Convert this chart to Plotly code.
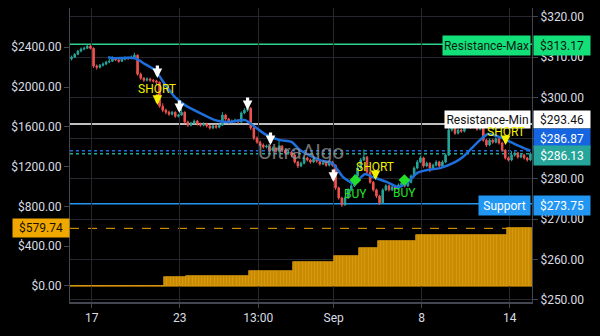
import plotly.graph_objects as go

# ---------------- data ----------------
close = [310.0, 310.7, 311.5, 312.0, 312.2, 312.7, 312.2, 307.8, 307.5, 308.0,
         308.3, 308.8, 309.0, 309.8, 309.3, 309.0, 309.5, 309.8, 309.7, 310.0,
         310.5, 305.8, 304.8, 304.3, 304.6, 304.3, 304.1, 303.8, 297.9, 296.9,
         296.4, 295.9, 296.4, 295.4, 295.7, 296.4, 294.0, 293.2, 293.7, 294.2,
         293.5, 293.2, 293.5, 293.0, 292.5, 293.0, 292.7, 293.2, 295.7, 294.7,
         294.0, 294.2, 294.4, 294.0, 296.2, 296.9, 297.4, 292.5, 290.0, 289.0,
         288.3, 287.8, 288.0, 287.0, 287.5, 286.8, 288.0, 287.0, 286.3, 286.5,
         285.8, 284.1, 283.1, 283.8, 285.1, 284.6, 284.1, 284.8, 284.3, 283.6,
         283.8, 283.3, 284.1, 283.3, 277.7, 275.2, 273.5, 275.2, 277.2, 278.2,
         280.6, 282.6, 284.6, 285.3, 281.6, 279.1, 277.2, 275.7, 274.0, 277.2,
         278.2, 277.2, 277.9, 277.4, 278.4, 278.9, 278.2, 279.1, 280.6, 282.6,
         284.1, 285.1, 283.1, 283.8, 282.6, 283.3, 284.1, 283.1, 284.1, 285.8,
         292.0, 292.5, 291.2, 292.0, 291.7, 293.2, 294.0, 292.7, 293.0, 292.2,
         292.5, 289.5, 288.3, 289.5, 289.0, 289.8, 288.8, 287.0, 285.1, 284.6,
         285.8, 286.3, 285.3, 285.8, 285.1, 284.6, 286.13]

high = [310.4, 311.0, 311.8, 312.4, 312.6, 313.1, 313.0, 312.4, 308.2, 308.3,
        308.7, 309.1, 309.6, 310.2, 310.0, 309.6, 309.9, 310.2, 310.1, 310.4,
        311.1, 310.7, 306.2, 305.1, 305.0, 304.9, 304.6, 304.4, 304.0, 298.6,
        297.3, 296.8, 296.7, 296.6, 296.0, 297.8, 296.6, 294.3, 294.0, 294.6,
        294.5, 293.8, 293.9, 293.8, 293.3, 293.3, 293.4, 293.6, 296.4, 296.0,
        295.0, 294.6, 294.8, 294.7, 296.6, 297.4, 298.1, 297.6, 292.8, 290.4,
        289.4, 288.7, 288.4, 288.3, 287.9, 287.8, 289.6, 288.3, 287.3, 287.0,
        286.8, 286.1, 284.4, 284.2, 285.5, 285.4, 284.9, 285.2, 285.1, 284.6,
        284.2, 284.1, 284.5, 284.4, 283.5, 278.0, 275.5, 275.6, 277.6, 278.7,
        281.0, 283.1, 285.1, 287.2, 285.6, 281.9, 279.4, 277.5, 276.0, 277.6,
        278.6, 278.5, 278.3, 278.2, 278.8, 279.3, 279.2, 279.5, 281.0, 283.0,
        284.6, 285.6, 285.4, 284.2, 284.0, 283.7, 284.5, 284.4, 284.5, 286.2,
        292.7, 292.9, 292.8, 292.4, 292.3, 293.6, 294.6, 294.2, 293.4, 293.3,
        292.9, 292.7, 289.8, 289.9, 289.8, 290.2, 290.0, 289.1, 287.3, 285.5,
        286.8, 286.7, 286.6, 286.2, 286.1, 285.4, 286.5]

low = [309.2, 309.8, 310.5, 311.2, 311.7, 312.0, 311.9, 307.3, 306.9, 307.2,
       307.7, 308.0, 308.5, 308.8, 309.0, 308.6, 308.8, 309.2, 309.3, 309.5,
       309.8, 305.4, 304.4, 303.9, 304.0, 303.9, 303.7, 303.3, 297.5, 296.4,
       295.9, 295.5, 295.6, 295.0, 295.1, 295.5, 293.6, 292.8, 292.9, 293.4,
       293.1, 292.8, 292.9, 292.6, 292.1, 292.2, 292.3, 292.4, 293.0, 294.3,
       293.6, 293.7, 293.9, 293.6, 293.8, 295.9, 296.5, 292.0, 289.5, 288.6,
       287.9, 287.4, 287.5, 286.6, 286.7, 286.4, 286.6, 286.6, 285.9, 286.0,
       285.3, 283.7, 282.6, 282.8, 283.5, 284.2, 283.7, 283.8, 283.9, 283.2,
       283.3, 282.9, 283.0, 282.9, 277.2, 274.8, 273.0, 273.3, 275.0, 276.9,
       277.9, 280.3, 282.3, 284.3, 281.2, 278.7, 276.8, 275.2, 273.5, 273.8,
       276.9, 276.8, 276.9, 277.0, 277.1, 278.0, 277.8, 277.9, 278.8, 280.3,
       282.3, 283.8, 282.7, 282.8, 281.6, 282.3, 283.0, 282.7, 282.8, 283.8,
       285.6, 291.6, 290.8, 290.9, 291.3, 291.4, 292.9, 292.3, 292.4, 291.8,
       291.9, 289.1, 287.8, 288.0, 288.6, 288.7, 288.4, 286.6, 284.7, 284.2,
       284.3, 285.4, 284.9, 285.0, 284.7, 284.2, 284.3]

open_ = [309.6] + close[:-1]
idx = list(range(len(close)))

# moving-average line (read at points)
ma_x = [11.6, 13.8, 20.2, 23.4, 26.5, 29.7, 32.9, 36.1, 40.9, 45.6, 49.5, 55.2,
        58.4, 61.5, 66.3, 70.1, 72.7, 79.0, 82.9, 86.4, 89.5, 91.1, 93.4, 95.9,
        100.4, 103.9, 106.7, 109.9, 113.1, 117.2, 122.0, 124.5, 129.9, 132.5,
        136.3, 141.7, 146.0]
ma_y = [310.0, 309.75, 309.75, 308.27, 306.79, 303.33, 300.12, 298.15, 296.17,
        294.44, 293.95, 294.44, 292.72, 290.99, 289.51, 289.01, 287.04, 284.57,
        283.83, 280.37, 278.89, 279.63, 281.11, 280.37, 279.14, 277.90, 278.89,
        281.36, 282.10, 282.59, 284.07, 285.31, 289.51, 290.99, 290.25, 288.27,
        286.87]

# cumulative histogram (left axis)
bar_vals = ([0] * 30 + [93] * 7 + [104] * 20 + [151] * 14 + [241] * 13 +
            [301] * 8 + [382] * 6 + [452] * 12 + [513] * 29 + [579.74] * 8)

res_max = 313.17
res_min = 293.46
support = 273.75
ma_last = 286.87
last_close = 286.13
bar_last = 579.74

tick_vals = [6.4, 34.4, 59.4, 83.4, 111.4, 139.4]
tick_text = ["17", "23", "13:00", "Sep", "8", "14"]
right_ticks = [250, 260, 270, 280, 290, 300, 310, 320]
left_ticks = [0, 400, 800, 1200, 1600, 2000, 2400]

white_x = [27.3, 34.3, 56.0, 63.3, 83.3]
white_y = [304.85, 296.2, 296.95, 288.3, 279.16]
short_x = [27.3, 96.7, 138.1]
short_arrow_y = [298.2, 279.65, 288.3]
short_text_y = [302.1, 282.9, 291.5]
buy_x = [90.3, 105.9]
buy_y = [279.65, 279.65]
buy_text_y = [276.2, 276.4]

# ---------------- styling ----------------
FONT = "Roboto, DejaVu Sans, sans-serif"
TXT = "#d9dce3"
GRID = "#26262f"
AXLINE = "#434651"
UP = "#26a69a"
DOWN = "#ef5350"
BLUE = "#1e6fdc"
GREEN = "#2ed18a"
ORANGE = "#f0a800"

fig = go.Figure()

fig.add_trace(go.Bar(
    x=idx, y=bar_vals, yaxis="y2", width=1,
    marker=dict(color="#c68b00", line=dict(color="#e6a412", width=0.7)),
    hoverinfo="skip"))

fig.add_trace(go.Candlestick(
    x=idx, open=open_, high=high, low=low, close=close,
    increasing=dict(line=dict(color=UP, width=1), fillcolor=UP),
    decreasing=dict(line=dict(color=DOWN, width=1), fillcolor=DOWN),
    hoverinfo="skip"))

fig.add_trace(go.Scatter(
    x=ma_x, y=ma_y, mode="lines", line=dict(color=BLUE, width=2.5, shape="spline", smoothing=0.6),
    hoverinfo="skip"))

fig.add_trace(go.Scatter(
    x=buy_x, y=buy_y, mode="markers",
    marker=dict(symbol="diamond", size=9, color="#22e02a"), hoverinfo="skip"))

shapes = [
    dict(type="line", xref="paper", x0=0, x1=1, yref="y", y0=res_max, y1=res_max,
         line=dict(color=GREEN, width=1.5), layer="below"),
    dict(type="line", xref="paper", x0=0, x1=1, yref="y", y0=res_min, y1=res_min,
         line=dict(color="#ffffff", width=1.5), layer="below"),
    dict(type="line", xref="paper", x0=0, x1=1, yref="y", y0=support, y1=support,
         line=dict(color="#2196f3", width=1.5), layer="below"),
    dict(type="line", xref="paper", x0=0, x1=1, yref="y", y0=ma_last, y1=ma_last,
         line=dict(color=BLUE, width=1.5, dash="dot"), layer="below"),
    dict(type="line", xref="paper", x0=0, x1=1, yref="y", y0=last_close, y1=last_close,
         line=dict(color=UP, width=1.5, dash="dot"), layer="below"),
    dict(type="line", xref="paper", x0=0, x1=1, yref="y2", y0=bar_last, y1=bar_last,
         line=dict(color=ORANGE, width=1, dash="dash"), layer="below"),
    dict(type="line", xref="paper", x0=0, x1=1, yref="y2", y0=0, y1=0,
         line=dict(color=ORANGE, width=1), layer="below"),
]

ann = []
# watermark
ann.append(dict(text="UltraAlgo", xref="paper", yref="paper", x=0.5, y=0.51,
                showarrow=False, font=dict(family=FONT, size=21, color="rgba(150,150,150,0.75)")))
# white arrows
for xv, yv in zip(white_x, white_y):
    ann.append(dict(x=xv, y=yv, xref="x", yref="y", text="", showarrow=True,
                    ax=0, ay=-14, arrowhead=2, arrowsize=0.6, arrowwidth=3.2,
                    arrowcolor="#ffffff"))

# right-side labels
def label_pair(name, price_txt, yv, bg, fg, name_w, h=17):
    out = []
    if name:
        out.append(dict(text=name, xref="paper", x=0.9985, xanchor="right", yref="y", y=yv,
                        yanchor="middle", showarrow=False, bgcolor=bg, width=name_w, height=h,
                        borderpad=1, font=dict(family=FONT, size=12, color=fg)))
    out.append(dict(text=price_txt, xref="paper", x=1.002, xanchor="left", yref="y", y=yv,
                    yanchor="middle", showarrow=False, bgcolor=bg, width=54, height=h,
                    borderpad=1, font=dict(family=FONT, size=12, color=fg)))
    return out

ann += label_pair("Resistance-Max", "$%.2f" % res_max, 312.95, "#14e07a", "#0a1a10", 85)
ann += label_pair("Resistance-Min", "$%.2f" % res_min, 294.6, "#ffffff", "#111111", 83, 15)
ann += label_pair(None, "$%.2f" % ma_last, 289.9, "#1565e0", "#ffffff", 0)
ann += label_pair(None, "$%.2f" % last_close, 285.6, UP, "#ffffff", 0)
ann += label_pair("Support", "$%.2f" % support, 273.4, "#2196f3", "#ffffff", 49)
ann.append(dict(text="$%.2f" % bar_last, xref="paper", x=0, xanchor="right", yref="y2",
                y=bar_last, yanchor="middle", showarrow=False, bgcolor=ORANGE, width=54,
                height=16, borderpad=1, font=dict(family=FONT, size=12, color="#1a1200")))

# short / buy signals (drawn on top)
for k, (xv, ya, yt) in enumerate(zip(short_x, short_arrow_y, short_text_y)):
    ann.append(dict(x=xv, y=ya, xref="x", yref="y", text="", showarrow=True,
                    ax=0, ay=-12 if k == 0 else -6, arrowhead=2, arrowsize=0.6,
                    arrowwidth=3.2, arrowcolor="#f2f200"))
    ann.append(dict(x=xv, y=yt, xref="x", yref="y", text="SHORT", showarrow=False,
                    font=dict(family=FONT, size=12, color="#f2f200")))
for xv, yt in zip(buy_x, buy_text_y):
    ann.append(dict(x=xv, y=yt, xref="x", yref="y", text="BUY", showarrow=False,
                    font=dict(family=FONT, size=12, color="#22e02a")))

fig.update_layout(
    width=600, height=336,
    margin=dict(l=70, r=68, t=8, b=34),
    paper_bgcolor="#000000", plot_bgcolor="#000000",
    showlegend=False, bargap=0,
    font=dict(family=FONT, size=12, color=TXT),
    shapes=shapes, annotations=ann,
    xaxis=dict(range=[-0.5, 146.5], tickvals=tick_vals, ticktext=tick_text,
               showgrid=True, gridcolor=GRID, gridwidth=1, zeroline=False,
               showline=True, linecolor=AXLINE, linewidth=2,
               ticks="outside", ticklen=4, tickcolor=AXLINE,
               tickfont=dict(family=FONT, size=12, color=TXT),
               rangeslider=dict(visible=False), fixedrange=True),
    yaxis=dict(side="right", range=[249.5, 322.15], tickvals=right_ticks,
               ticktext=["$%.2f" % v for v in right_ticks],
               showgrid=True, gridcolor=GRID, gridwidth=1, zeroline=False,
               showline=True, linecolor=AXLINE, linewidth=1,
               ticks="outside", ticklen=5, tickcolor=AXLINE,
               tickfont=dict(family=FONT, size=12, color=TXT)),
    yaxis2=dict(side="left", overlaying="y", range=[-161, 2795], tickvals=left_ticks,
                ticktext=["$%.2f" % v for v in left_ticks],
                showgrid=False, zeroline=False,
                showline=True, linecolor=AXLINE, linewidth=1,
                ticks="outside", ticklen=5, tickcolor=AXLINE,
                tickfont=dict(family=FONT, size=12, color=TXT)),
)

fig.write_html("out.html")
